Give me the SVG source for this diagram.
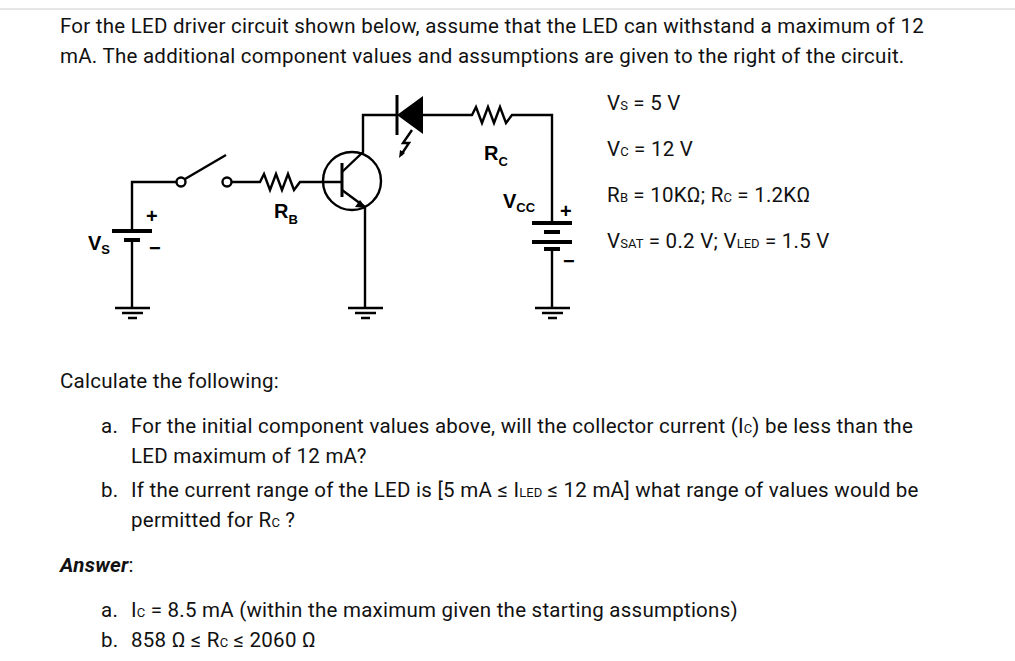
<svg xmlns="http://www.w3.org/2000/svg" width="1015" height="661" viewBox="0 0 1015 661">
<style>
.t{font-family:Roboto,"Liberation Sans",sans-serif;font-size:20.5px;letter-spacing:0.25px;fill:#111}
.s{font-size:13px;letter-spacing:0}
.w{fill:none;stroke:#000;stroke-width:2.4}
.l{font-family:"Liberation Sans",Arial,sans-serif;font-weight:bold;font-size:20px}
.ls{font-size:13px}
</style>
<rect width="1015" height="661" fill="#fff"/>
<line x1="0" y1="9" x2="1015" y2="9" stroke="#ccc"/>
<g id="text">
<text class="t" x="60" y="33">For the LED driver circuit shown below, assume that the LED can withstand a maximum of 12</text>
<text class="t" x="60" y="63">mA. The additional component values and assumptions are given to the right of the circuit.</text>
<text class="t" x="607" y="110">V<tspan class="s">S</tspan> = 5 V</text>
<text class="t" x="607" y="156">V<tspan class="s">C</tspan> = 12 V</text>
<text class="t" x="607" y="202">R<tspan class="s">B</tspan> = 10KΩ; R<tspan class="s">C</tspan> = 1.2KΩ</text>
<text class="t" x="607" y="248">V<tspan class="s">SAT</tspan> = 0.2 V; V<tspan class="s">LED</tspan> = 1.5 V</text>
<text class="t" x="60" y="388">Calculate the following:</text>
<text class="t" x="101" y="433">a.</text><text class="t" x="131" y="433">For the initial component values above, will the collector current (I<tspan class="s">C</tspan>) be less than the</text>
<text class="t" x="131" y="463">LED maximum of 12 mA?</text>
<text class="t" x="101" y="497">b.</text><text class="t" x="131" y="497">If the current range of the LED is [5 mA ≤ I<tspan class="s">LED</tspan> ≤ 12 mA] what range of values would be</text>
<text class="t" x="131" y="527">permitted for R<tspan class="s">C</tspan> ?</text>
<text class="t" x="60" y="572" font-weight="bold" font-style="italic">Answer<tspan font-weight="normal" font-style="normal">:</tspan></text>
<text class="t" x="101" y="617">a.</text><text class="t" x="131" y="617">I<tspan class="s">C</tspan> = 8.5 mA (within the maximum given the starting assumptions)</text>
<text class="t" x="101" y="647">b.</text><text class="t" x="131" y="647">858 Ω ≤ R<tspan class="s">C</tspan> ≤ 2060 Ω</text>
</g>
<g id="connectors" class="w">
<polyline points="132,231 132,182 177,182"/>
<polyline points="132,240 132,308"/>
<polyline points="231,182 260,182 264,174 270,190 276,174 282,190 288,174 294,190 300,182 342,182"/>
<polyline points="342,172 363,152 363,115 397,115"/>
<line x1="342" y1="190" x2="365" y2="207"/>
<line x1="365" y1="207" x2="365" y2="308"/>
<polyline points="423,115 472,115 476,107 482,123 488,107 494,123 500,107 506,123 512,115 552,115 552,223"/>
<line x1="552" y1="249" x2="552" y2="308"/>
</g>
<g id="VS">
<line x1="112" y1="231" x2="152" y2="231" stroke="#000" stroke-width="4"/>
<line x1="124" y1="240" x2="140" y2="240" stroke="#000" stroke-width="4"/>
<text class="l" x="88" y="250">V<tspan class="ls" dy="4">S</tspan></text>
<text class="l" x="146" y="223">+</text>
<text class="l" x="149" y="255">−</text>
</g>
<g id="switch" class="w">
<circle cx="181" cy="182" r="4.5" fill="#fff"/>
<line x1="185" y1="179" x2="226" y2="155"/>
<circle cx="227" cy="182" r="4.5" fill="#fff"/>
</g>
<g id="RB"><text class="l" x="274" y="218">R<tspan class="ls" dy="6">B</tspan></text></g>
<g id="transistor">
<circle cx="352" cy="181" r="29" class="w"/>
<line x1="342" y1="163" x2="342" y2="197" stroke="#000" stroke-width="3"/>
<polygon points="366,208 355,207 360,200" fill="#000"/>
</g>
<g id="LED">
<line x1="397" y1="95" x2="397" y2="135" stroke="#000" stroke-width="3"/>
<polygon points="397,115 423,96 423,134" fill="#000"/>
<polyline points="412,130 403,143 409,143 401,155" class="w" stroke-width="1.5"/>
<polygon points="399,158 400,150 405,153" fill="#000"/>
</g>
<g id="RC"><text class="l" x="484" y="160">R<tspan class="ls" dy="6">C</tspan></text></g>
<g id="VCC">
<line x1="532" y1="223" x2="572" y2="223" stroke="#000" stroke-width="4"/>
<line x1="544" y1="232" x2="560" y2="232" stroke="#000" stroke-width="4"/>
<line x1="532" y1="242" x2="572" y2="242" stroke="#000" stroke-width="4"/>
<line x1="544" y1="249" x2="560" y2="249" stroke="#000" stroke-width="4"/>
<text class="l" x="503" y="208">V<tspan class="ls" dy="4">CC</tspan></text>
<text class="l" x="560" y="218">+</text>
<text class="l" x="563" y="268">−</text>
</g>
<g id="grounds" stroke="#000" stroke-width="2.5">
<line x1="115" y1="308" x2="150" y2="308"/><line x1="122" y1="313" x2="143" y2="313"/><line x1="128" y1="318" x2="137" y2="318"/>
<line x1="348" y1="308" x2="383" y2="308"/><line x1="355" y1="313" x2="376" y2="313"/><line x1="361" y1="318" x2="370" y2="318"/>
<line x1="535" y1="308" x2="570" y2="308"/><line x1="542" y1="313" x2="563" y2="313"/><line x1="548" y1="318" x2="557" y2="318"/>
</g>
</svg>
